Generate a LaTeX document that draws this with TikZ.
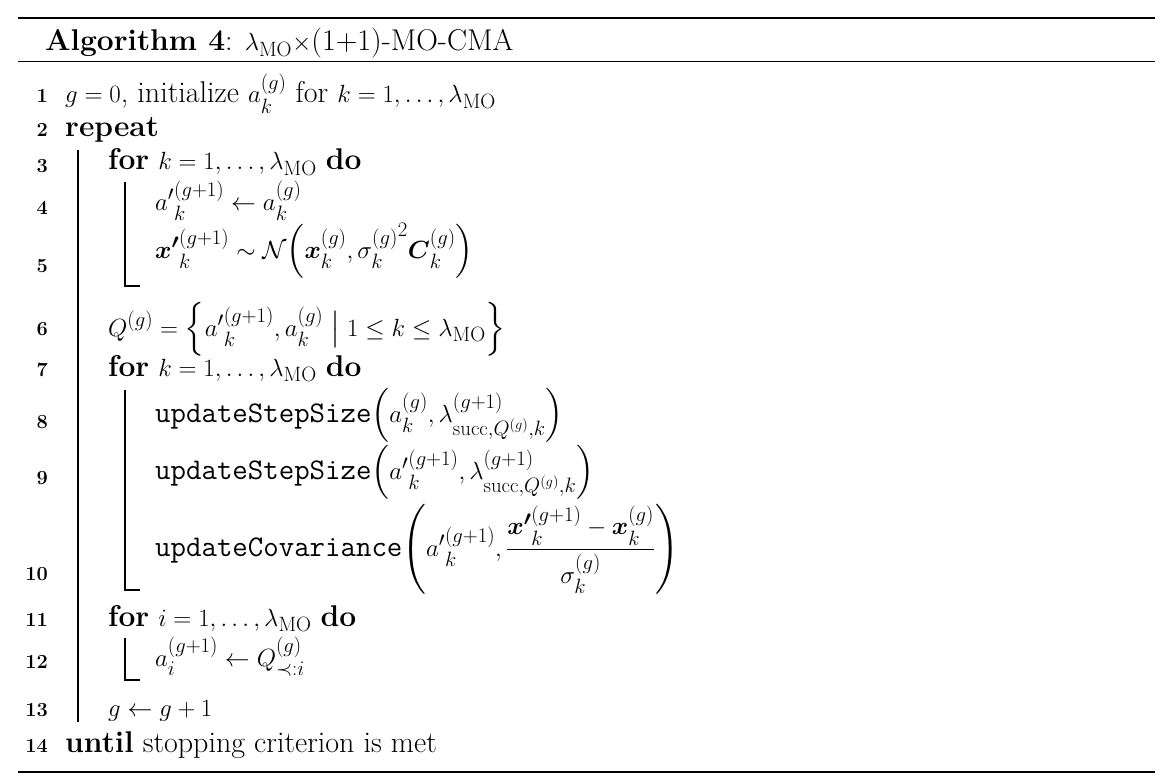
\documentclass[tikz,border=0pt]{standalone}
\usepackage{amsmath,amssymb}
\begin{document}
\begin{tikzpicture}[x=1pt,y=-1pt,
  txt/.style={anchor=base west,inner sep=0pt,font=\fontsize{30}{35}\selectfont},
  num/.style={anchor=base east,inner sep=0pt,font=\fontsize{20}{24}\selectfont\bfseries},
  rule/.style={line width=1.6pt},
  blk/.style={line width=1.4pt}]
\useasboundingbox (0,0) rectangle (1173,781);
\draw[rule] (18,18) -- (1155,18);
\draw[line width=1pt] (18,62) -- (1155,62);
\draw[rule] (18,772) -- (1155,772);
\node[txt] (title) at (45,51) {\textbf{Algorithm 4}: $\lambda_{\mathrm{MO}}{\times}$(1+1)-MO-CMA};
% line numbers
\foreach \n/\y in {1/103,2/137,3/172,4/214,5/272,6/335,7/376,8/428,9/484,10/580,11/626,12/668,13/716,14/752}
  \node[num] (n\n) at (48,\y) {\n};
% content
\node[txt] (l1) at (65,103) {$g=0$, initialize $a_k^{(g)}$ for $k=1,\ldots,\lambda_{\mathrm{MO}}$};
\node[txt] (l2) at (65,137) {\textbf{repeat}};
\node[txt] (l3) at (108,170) {\textbf{for} $k=1,\ldots,\lambda_{\mathrm{MO}}$ \textbf{do}};
\node[txt] (l4) at (155,210) {${a'}_k^{(g+1)}\leftarrow a_k^{(g)}$};
\node[txt] (l5) at (155,258) {$\boldsymbol{x'}_k^{(g+1)}\sim\mathcal{N}\Bigl(\boldsymbol{x}_k^{(g)},{\sigma_k^{(g)}}^2\boldsymbol{C}_k^{(g)}\Bigr)$};
\node[txt] (l6) at (108,336) {$Q^{(g)}=\Bigl\{{a'}_k^{(g+1)},a_k^{(g)}\bigm|1\le k\le\lambda_{\mathrm{MO}}\Bigr\}$};
\node[txt] (l7) at (108,376) {\textbf{for} $k=1,\ldots,\lambda_{\mathrm{MO}}$ \textbf{do}};
\node[txt] (l8) at (155,422) {\texttt{updateStepSize}$\Bigl(a_k^{(g)},\lambda^{(g+1)}_{\mathrm{succ},Q^{(g)},k}\Bigr)$};
\node[txt] (l9) at (155,479) {\texttt{updateStepSize}$\Bigl({a'}_k^{(g+1)},\lambda^{(g+1)}_{\mathrm{succ},Q^{(g)},k}\Bigr)$};
\node[txt] (l10) at (155,556) {\texttt{updateCovariance}$\left({a'}_k^{(g+1)},\dfrac{\boldsymbol{x'}_k^{(g+1)}-\boldsymbol{x}_k^{(g)}}{\sigma_k^{(g)}}\right)$};
\node[txt] (l11) at (108,626) {\textbf{for} $i=1,\ldots,\lambda_{\mathrm{MO}}$ \textbf{do}};
\node[txt] (l12) at (155,666) {$a_i^{(g+1)}\leftarrow Q^{(g)}_{\prec:i}$};
\node[txt] (l13) at (108,716) {$g\leftarrow g+1$};
\node[txt] (l14) at (65,752) {\textbf{until} stopping criterion is met};
% block bars
\draw[blk] (78,150) -- (78,722);
\draw[blk] (125,182) -- (125,286) -- (140,286);
\draw[blk] (125,390) -- (125,590) -- (140,590);
\draw[blk] (125,638) -- (125,680) -- (140,680);
\end{tikzpicture}
\end{document}
